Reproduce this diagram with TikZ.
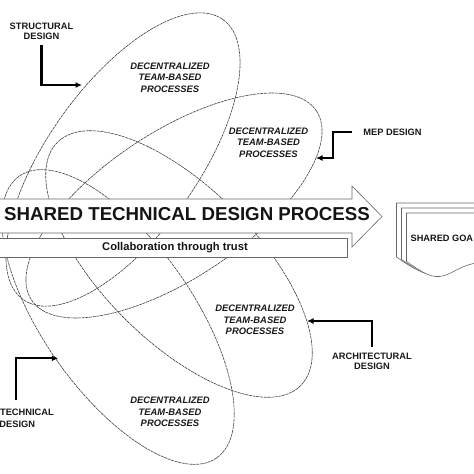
\documentclass[tikz,border=0pt]{standalone}
\usepackage{fontspec}
\setmainfont{Liberation Sans}
\usetikzlibrary{arrows.meta}
\begin{document}
\begin{tikzpicture}[x=1pt,y=-1pt,
  petal/.style={draw=black!75, line width=0.6pt, dash pattern=on 3pt off 0.7pt},
  outline/.style={draw=black!60, line width=0.6pt, fill=white},
  labarrow/.style={draw=black, line width=2.2pt, -{Latex[length=6.5pt,width=6pt]}},
  lab/.style={font=\fontsize{9.3}{10.7}\selectfont\bfseries, text=black!90, inner sep=1pt, align=center},
  proc/.style={font=\fontsize{9.4}{11.5}\selectfont\bfseries\itshape, text=black!90, inner sep=0pt, align=center},
  big/.style={font=\fontsize{18.7}{20}\selectfont\bfseries, text=black!92, inner sep=0pt},
  mid/.style={font=\fontsize{11.2}{13}\selectfont\bfseries, text=black!92, inner sep=0pt}
]
\useasboundingbox (0,0) rectangle (474,474);
\clip (0,0) rectangle (474,474);

% petals
\draw[petal, rotate around={54.5:(123,159.5)}] (123,159.5) ellipse [x radius=172, y radius=75];
\draw[petal, rotate around={33.6:(174,205.5)}] (174,205.5) ellipse [x radius=171, y radius=73];
\draw[petal, rotate around={-45:(179,264)}] (179,264) ellipse [x radius=172, y radius=77];
\draw[petal, rotate around={-55:(118,317)}] (118,317) ellipse [x radius=172, y radius=75];

% big arrow
\draw[outline] (-3,199) -- (352,199) -- (352,186) -- (382,216.5) -- (352,247) -- (352,233) -- (-3,233) -- cycle;
\node[big, anchor=base west] (shared) at (4,220) {SHARED TECHNICAL DESIGN PROCESS};

% collaboration bar
\draw[outline] (-3,238) rectangle (347,257);
\node[mid, anchor=base west] (collab) at (102,250.7) {Collaboration through trust};

% shared goal documents
\draw[outline] (396.5,203) -- (396.5,257) .. controls (408.5,265) and (418.5,273) .. (429.5,272) .. controls (441.5,271) and (451.5,259) .. (471.5,258) -- (530,257.5) -- (530,203) -- cycle;
\draw[outline] (401.5,208) -- (401.5,259.5) .. controls (413.5,267.5) and (423.5,275.5) .. (434.5,274.5) .. controls (446.5,273.5) and (456.5,261.5) .. (476.5,260.5) -- (530,260) -- (530,208) -- cycle;
\draw[outline] (406.5,213) -- (406.5,261.5) .. controls (418.5,269.5) and (428.5,277.5) .. (439.5,276.5) .. controls (451.5,275.5) and (461.5,263.5) .. (481.5,262.5) -- (530,262) -- (530,213) -- cycle;
\node[font=\fontsize{9.2}{11}\selectfont\bfseries, text=black!92, inner sep=0pt, anchor=base west] (goal) at (410.5,241.7) {SHARED GOA};

% process texts
\node[proc] (p1) at (170,77.5) {DECENTRALIZED\\TEAM-BASED\\PROCESSES};
\node[proc] (p2) at (268.5,142.5) {DECENTRALIZED\\TEAM-BASED\\PROCESSES};
\node[proc] (p3) at (255,320) {DECENTRALIZED\\TEAM-BASED\\PROCESSES};
\node[proc] (p4) at (170,412) {DECENTRALIZED\\TEAM-BASED\\PROCESSES};

% discipline labels
\node[lab] (struct) at (41.5,31.3) {STRUCTURAL\\DESIGN};
\node[lab] (mep) at (392.5,132.2) {MEP DESIGN};
\node[lab] (arch) at (372,361.4) {ARCHITECTURAL\\DESIGN};
\node[lab, anchor=base east] (techA) at (55,415.7) {TECHNICAL};
\node[lab, anchor=base east] (techB) at (36.3,427.3) {DESIGN};

% arrow targets on petals
\coordinate (e1tip) at (82,85);
\coordinate (e2tip) at (316,158);
\coordinate (e3tip) at (307,321);
\coordinate (e4tip) at (58.3,358.3);

\draw[labarrow] ([yshift=-4pt]struct.south) |- (e1tip);
\draw[labarrow] ([xshift=-10pt]mep.west) -- ++(-19,0) |- (e2tip);
\draw[labarrow] ([yshift=5pt]arch.north) |- (e3tip);
\draw[labarrow] ([xshift=17.4pt,yshift=8pt]techA.north west) |- (e4tip);
\end{tikzpicture}
\end{document}
